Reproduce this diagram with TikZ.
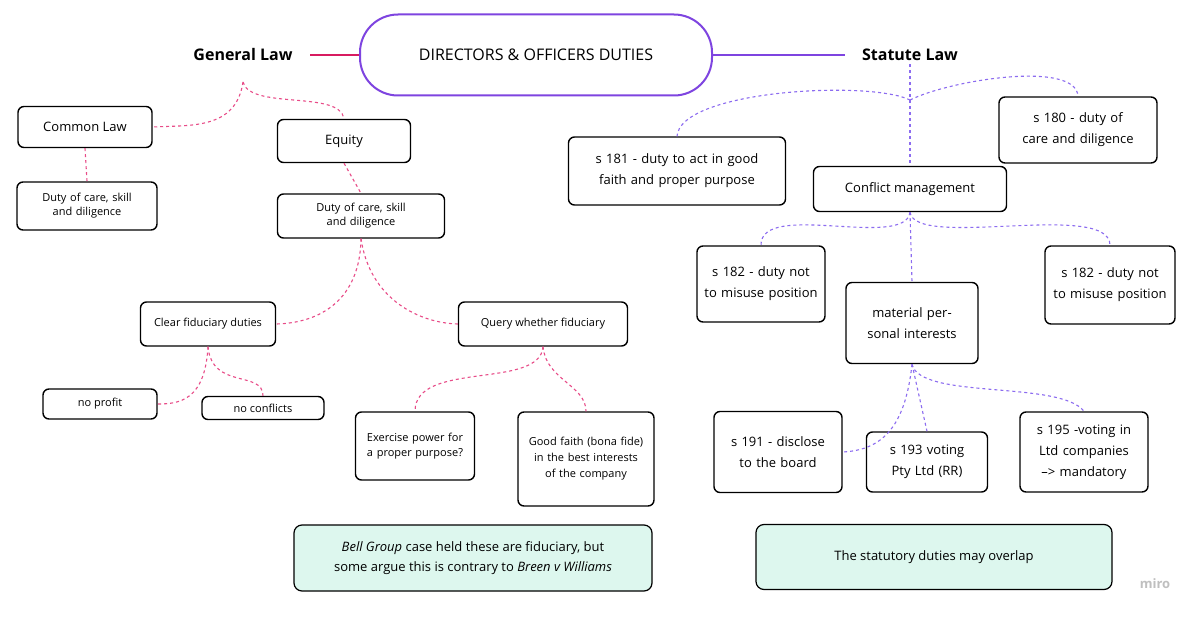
\documentclass[tikz,border=0pt]{standalone}
\usepackage{fontspec}
\setmainfont{Open Sans}
\definecolor{pk}{HTML}{D81B60}
\definecolor{pkd}{HTML}{E84C88}
\definecolor{pu}{HTML}{7E44E0}
\definecolor{pud}{HTML}{8C6CF0}
\definecolor{gr}{HTML}{DDF7EE}
\begin{document}
\begin{tikzpicture}[x=1pt,y=-1pt,
 bx/.style={draw=black,line width=1.4pt,rounded corners=6pt,fill=white,align=center,inner sep=2pt},
 pkl/.style={draw=pkd,dashed,line width=1.1pt},
 pul/.style={draw=pud,dashed,line width=1.1pt},
 gbx/.style={draw=black,line width=1.2pt,rounded corners=8pt,fill=gr,align=center}]
\useasboundingbox (0,0) rectangle (1200,618);
\fill[white] (0,0) rectangle (1200,618);
% title
\node[draw=pu,line width=2pt,rounded corners=38pt,minimum width=352pt,minimum height=81pt,font=\fontsize{16}{18}\selectfont] (t) at (536,55) {DIRECTORS \& OFFICERS DUTIES};
\node[font=\fontsize{16}{18}\selectfont\bfseries] (gl) at (243,55) {General Law};
\node[font=\fontsize{16}{18}\selectfont\bfseries] (sl) at (910,55) {Statute Law};
\draw[pk,line width=2.5pt] (310,55) -- (t.west);
\draw[pu,line width=2.5pt] (t.east) -- (845,55);
% left
\node[bx,minimum width=134pt,minimum height=41pt,font=\fontsize{13}{16}\selectfont] (cl) at (85,127) {Common Law};
\node[bx,minimum width=140pt,minimum height=48pt,font=\fontsize{11}{14}\selectfont,text width=134pt] (dl) at (87,206) {Duty of care, skill and diligence};
\node[bx,minimum width=133pt,minimum height=43pt,font=\fontsize{13}{16}\selectfont] (eq) at (344,141) {Equity};
\node[bx,minimum width=167pt,minimum height=44pt,font=\fontsize{11}{14}\selectfont,text width=150pt] (de) at (361,216) {Duty of care, skill and diligence};
\node[bx,minimum width=135pt,minimum height=44pt,font=\fontsize{11}{14}\selectfont] (cf) at (208,324) {Clear fiduciary duties};
\node[bx,minimum width=169pt,minimum height=44pt,font=\fontsize{11}{14}\selectfont] (qf) at (543,324) {Query whether fiduciary};
\node[bx,minimum width=114pt,minimum height=30pt,font=\fontsize{11}{14}\selectfont] (np) at (100,404) {no profit};
\node[bx,minimum width=122pt,minimum height=23pt,font=\fontsize{11}{14}\selectfont] (nc) at (263,408) {no conflicts};
\node[bx,minimum width=119pt,minimum height=68pt,font=\fontsize{11}{15}\selectfont,text width=115pt] (ep) at (415,446) {Exercise power for a proper purpose?};
\node[bx,minimum width=136pt,minimum height=94pt,font=\fontsize{11}{16}\selectfont,text width=115pt] (gf) at (586,459) {Good faith (bona fide) in the best interests of the company};
\node[gbx,minimum width=358pt,minimum height=66pt,font=\fontsize{13}{20}\selectfont] (bg) at (473,558) {\itshape Bell Group\upshape{} case held these are fiduciary, but\\ some argue this is contrary to \itshape Breen v Williams};
% right
\node[bx,minimum width=217pt,minimum height=68pt,font=\fontsize{13}{21}\selectfont,text width=205pt] (s181) at (677,171) {s 181 - duty to act in good faith and proper purpose};
\node[bx,minimum width=158pt,minimum height=66pt,font=\fontsize{13}{21}\selectfont,text width=145pt] (s180) at (1078,130) {s 180 - duty of care and diligence};
\node[bx,minimum width=193pt,minimum height=45pt,font=\fontsize{13}{16}\selectfont] (cm) at (910,189) {Conflict management};
\node[bx,minimum width=128pt,minimum height=76pt,font=\fontsize{13}{21}\selectfont,text width=118pt] (s182a) at (761,284) {s 182 - duty not to misuse position};
\node[bx,minimum width=130pt,minimum height=78pt,font=\fontsize{13}{21}\selectfont,text width=118pt] (s182b) at (1110,285) {s 182 - duty not to misuse position};
\node[bx,minimum width=132pt,minimum height=81pt,font=\fontsize{13}{21}\selectfont,text width=110pt] (mp) at (912,323) {material personal interests};
\node[bx,minimum width=128pt,minimum height=81pt,font=\fontsize{13}{21}\selectfont,text width=118pt] (s191) at (778,452) {s 191 - disclose to the board};
\node[bx,minimum width=121pt,minimum height=60pt,font=\fontsize{13}{21}\selectfont,text width=115pt] (s193) at (927,462) {s 193 voting Pty Ltd (RR)};
\node[bx,minimum width=128pt,minimum height=80pt,font=\fontsize{13}{21}\selectfont,text width=118pt] (s195) at (1084,452) {s 195 -voting in Ltd companies --> mandatory};
\node[gbx,minimum width=356pt,minimum height=65pt,font=\fontsize{13}{16}\selectfont] (st) at (934,557) {The statutory duties may overlap};
\node[text=gray!50,font=\fontsize{13}{15}\selectfont\bfseries] (miro) at (1155,584) {miro};
% pink connectors
\coordinate (g1) at (243,82);
\draw[pkl] (g1) .. controls (236,130) and (190,125) .. (cl.east);
\draw[pkl] (g1) .. controls (250,110) and (340,90) .. (eq.north);
\draw[pkl] (cl.south) -- (dl.north);
\draw[pkl] (eq.south) -- (de.north);
\draw[pkl] (de.south) .. controls (360,300) and (320,323) .. (cf.east);
\draw[pkl] (de.south) .. controls (370,300) and (420,323) .. (qf.west);
\draw[pkl] (cf.south) .. controls (205,400) and (180,404) .. (np.east);
\draw[pkl] (cf.south) .. controls (212,390) and (263,370) .. (nc.north);
\draw[pkl] (qf.south) .. controls (540,390) and (415,360) .. (ep.north);
\draw[pkl] (qf.south) .. controls (546,380) and (586,385) .. (gf.north);
% purple connectors
\draw[pul] (sl.south) -- (cm.north);
\coordinate (p1) at (910,100);
\draw[pul] (p1) .. controls (870,80) and (680,90) .. (s181.north);
\draw[pul] (p1) .. controls (950,80) and (1076,60) .. (s180.north);
\draw[pul] (cm.south) .. controls (905,250) and (760,200) .. (s182a.north);
\draw[pul] (cm.south) .. controls (915,250) and (1110,200) .. (s182b.north);
\draw[pul] (cm.south) -- (mp.north);
\draw[pul] (mp.south) .. controls (905,430) and (880,450) .. (s191.east);
\draw[pul] (mp.south) -- (s193.north);
\draw[pul] (mp.south) .. controls (920,400) and (1060,380) .. (s195.north);
\end{tikzpicture}
\end{document}
